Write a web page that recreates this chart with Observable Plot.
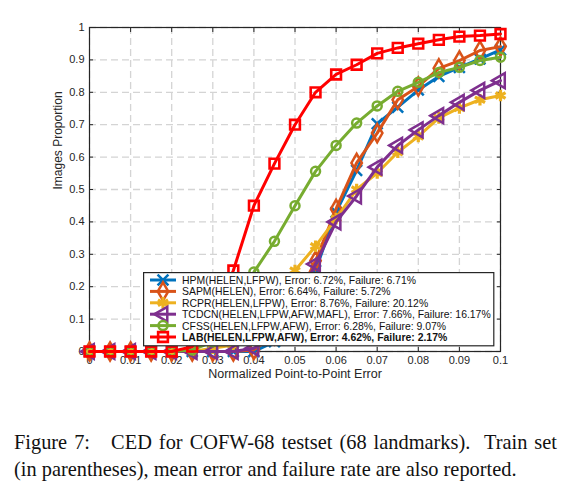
<!DOCTYPE html>
<html><head><meta charset="utf-8">
<script src="https://cdn.jsdelivr.net/npm/d3@7"></script>
<script src="https://cdn.jsdelivr.net/npm/@observablehq/plot@0.6"></script>
<style>
body{margin:0;background:#fff;}
#wrap{position:relative;width:567px;height:487px;overflow:hidden;}
#legend{position:absolute;left:143px;top:272px;}
.cap{position:absolute;left:14px;width:543px;font-family:"Liberation Serif","Times New Roman",serif;font-size:20.5px;line-height:27px;color:#111;white-space:nowrap;}
#cap1{top:428.5px;text-align:justify;text-align-last:justify;white-space:normal;}
#cap2{top:455.5px;}
</style></head><body><div id="wrap"></div>
<script>
const xs = [0,0.005,0.01,0.015,0.02,0.025,0.03,0.035,0.04,0.045,0.05,0.055,0.06,0.065,0.07,0.075,0.08,0.085,0.09,0.095,0.1];
const hpm   = [0,0,0,0,0,0,0,0,0,0.03,0.12,0.25,0.43,0.559,0.703,0.754,0.807,0.849,0.877,0.903,0.931];
const sapm  = [0,0,0,0,0,0,0,0,0.005,0.05,0.15,0.28,0.44,0.582,0.674,0.777,0.818,0.874,0.898,0.929,0.941];
const rcpr  = [0,0,0,0,0,0,0.01,0.02,0.05,0.13,0.25,0.325,0.41,0.50,0.551,0.615,0.664,0.721,0.752,0.777,0.79];
const tcdcn = [0,0,0,0,0,0,0,0,0.01,0.05,0.14,0.27,0.40,0.48,0.569,0.636,0.684,0.728,0.769,0.806,0.836];
const cfss  = [0,0,0,0,0,0.005,0.03,0.13,0.245,0.34,0.45,0.556,0.636,0.705,0.758,0.803,0.831,0.861,0.877,0.898,0.908];
const lab   = [0,0,0,0,0,0.015,0.10,0.25,0.45,0.58,0.70,0.80,0.855,0.885,0.92,0.937,0.95,0.962,0.972,0.975,0.98];

const seriesNames = [
  "HPM(HELEN,LFPW), Error: 6.72%, Failure: 6.71%",
  "SAPM(HELEN), Error: 6.64%, Failure: 5.72%",
  "RCPR(HELEN,LFPW), Error: 8.76%, Failure: 20.12%",
  "TCDCN(HELEN,LFPW,AFW,MAFL), Error: 7.66%, Failure: 16.17%",
  "CFSS(HELEN,LFPW,AFW), Error: 6.28%, Failure: 9.07%",
  "LAB(HELEN,LFPW,AFW), Error: 4.62%, Failure: 2.17%"
];
const seriesValues = [hpm, sapm, rcpr, tcdcn, cfss, lab];
const colors = ["#0072BD","#D95319","#EDB120","#7E2F8E","#77AC30","#FF0000"];
const symbols = ["times","diamond","asterisk","triangle","circle","square"];
const rotations = [0,0,0,-90,0,0];
const radii = [5,5.5,5.5,5.5,4.5,5.5];
const markerWidths = [2.5,2.5,3.2,2.5,2.5,2.6];
const xTicks = [0,0.01,0.02,0.03,0.04,0.05,0.06,0.07,0.08,0.09,0.1];
const yTicks = [0,0.1,0.2,0.3,0.4,0.5,0.6,0.7,0.8,0.9,1];
const xLabel = "Normalized Point-to-Point Error";
const yLabel = "Images Proportion";

const fmt = d => String(+d.toFixed(2));
const ink = "#262626";

const seriesMarks = seriesValues.flatMap((vals, i) => {
  const data = xs.map((x, j) => ({x, y: vals[j]}));
  return [
    Plot.line(data, {x: "x", y: "y", stroke: colors[i], strokeWidth: 3, strokeLinejoin: "round"}),
    Plot.dot(data, {x: "x", y: "y", stroke: colors[i], strokeWidth: markerWidths[i], fill: "none", symbol: symbols[i], r: radii[i], rotate: rotations[i]})
  ];
});

const chart = Plot.plot({
  width: 567, height: 390,
  marginLeft: 89, marginRight: 67, marginTop: 27, marginBottom: 39,
  style: {fontFamily: "Liberation Sans, Arial, sans-serif", color: ink, background: "white"},
  x: {domain: [0, 0.1]},
  y: {domain: [0, 1]},
  marks: [
    Plot.gridX(xTicks, {stroke: "#d4d4d4", strokeOpacity: 1, strokeWidth: 1.3, strokeDasharray: "7,4"}),
    Plot.gridY(yTicks, {stroke: "#d4d4d4", strokeOpacity: 1, strokeWidth: 1.3, strokeDasharray: "7,4"}),
    Plot.axisX(xTicks, {anchor: "bottom", tickSize: 0, tickPadding: 5, tickFormat: fmt, fontSize: 11, label: null}),
    Plot.axisY(yTicks, {anchor: "left", tickSize: 0, tickPadding: 5, tickFormat: fmt, fontSize: 11, label: null}),
    Plot.axisX(xTicks, {anchor: "bottom", tickSize: -4, tickFormat: () => "", label: null}),
    Plot.axisX(xTicks, {anchor: "top", tickSize: -4, tickFormat: () => "", label: null}),
    Plot.axisY(yTicks, {anchor: "left", tickSize: -4, tickFormat: () => "", label: null}),
    Plot.axisY(yTicks, {anchor: "right", tickSize: -4, tickFormat: () => "", label: null}),
    Plot.frame({stroke: ink, strokeWidth: 1.2}),
    Plot.text([xLabel], {frameAnchor: "bottom", dy: 26, text: d => d, fontSize: 12.5, fill: ink}),
    Plot.text([yLabel], {frameAnchor: "left", dx: -31, rotate: -90, text: d => d, fontSize: 12, fill: ink}),
    ...seriesMarks
  ]
});

const wrap = document.getElementById("wrap");
wrap.appendChild(chart);

// legend
const symMap = {times: d3.symbolTimes, diamond: d3.symbolDiamond, asterisk: d3.symbolAsterisk, triangle: d3.symbolTriangle, circle: d3.symbolCircle, square: d3.symbolSquare};
const lw = 352, lh = 75, rowH = 11.4, row0 = 8;
const leg = d3.create("svg").attr("id", "legend").attr("width", lw).attr("height", lh)
  .style("font-family", "Liberation Sans, Arial, sans-serif");
leg.append("rect").attr("x", 0.6).attr("y", 0.6).attr("width", lw - 1.8).attr("height", lh - 1.8)
  .attr("fill", "white").attr("stroke", ink).attr("stroke-width", 1.2);
const texts = [];
seriesNames.forEach((name, i) => {
  const cy = row0 + i * rowH;
  const g = leg.append("g");
  g.append("line").attr("x1", 7).attr("x2", 33).attr("y1", cy).attr("y2", cy)
    .attr("stroke", colors[i]).attr("stroke-width", 3);
  g.append("path").attr("d", d3.symbol(symMap[symbols[i]], Math.PI * radii[i] * radii[i])())
    .attr("transform", `translate(20,${cy}) rotate(${rotations[i]})`)
    .attr("fill", "none").attr("stroke", colors[i]).attr("stroke-width", markerWidths[i]);
  texts.push(g.append("text").attr("x", 39).attr("y", cy + 4).attr("font-size", 11)
    .attr("font-weight", i === 5 ? "bold" : "normal").attr("fill", "#111").text(name));
});
wrap.appendChild(leg.node());
// fit legend font to the reference width of the longest row (~309px)
const w3 = texts[3].node().getComputedTextLength();
const fs = 11 * 309 / w3;
texts.forEach(t => t.attr("font-size", fs.toFixed(2)));

const c1 = document.createElement("div");
c1.className = "cap"; c1.id = "cap1";
c1.innerHTML = "Figure 7:&nbsp;&nbsp; CED for COFW-68 testset (68 landmarks).&nbsp; Train set";
const c2 = document.createElement("div");
c2.className = "cap"; c2.id = "cap2";
c2.innerHTML = "<span id='c2s'>(in parentheses), mean error and failure rate are also reported.</span>";
wrap.appendChild(c1); wrap.appendChild(c2);
const w2 = document.getElementById("c2s").getBoundingClientRect().width;
const cfs = 20.5 * 503 / w2;
c1.style.fontSize = cfs + "px"; c2.style.fontSize = cfs + "px";
</script></body></html>
